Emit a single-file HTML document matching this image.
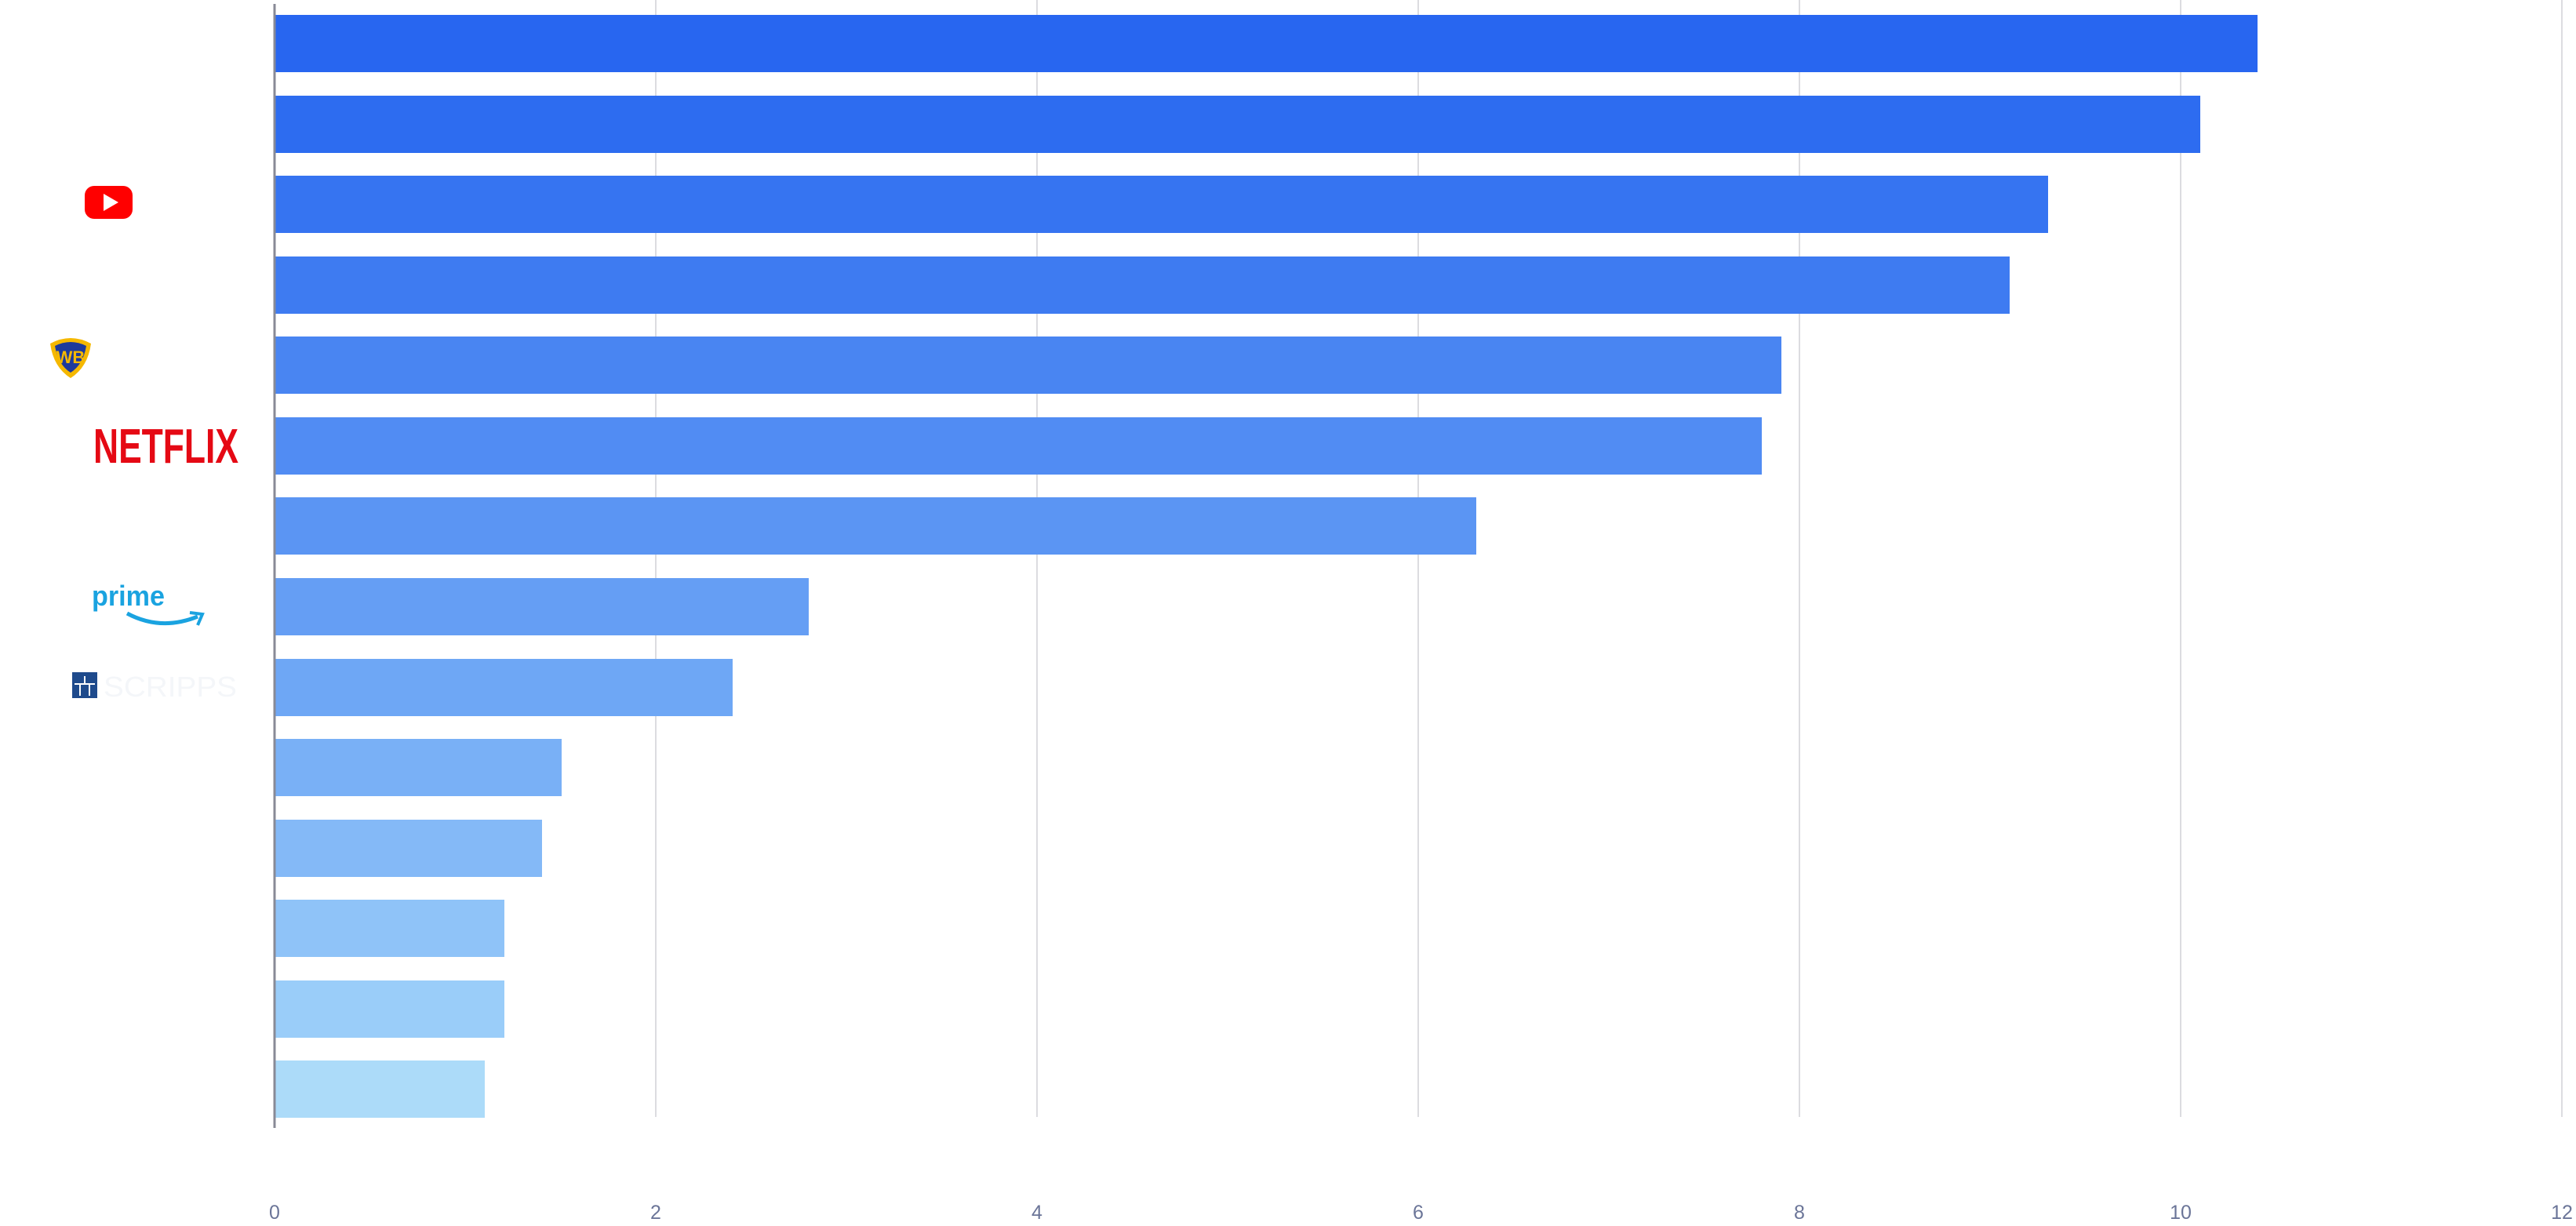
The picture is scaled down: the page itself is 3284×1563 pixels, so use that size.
<!DOCTYPE html>
<html><head><meta charset="utf-8"><style>html,body{margin:0;padding:0;background:#fff}svg{display:block}</style></head>
<body>
<svg width="3284" height="1563" viewBox="0 0 3284 1563" xmlns="http://www.w3.org/2000/svg" font-family="Liberation Sans, sans-serif">
<g stroke="#dcdce0" stroke-width="2">
<line x1="836" y1="0" x2="836" y2="1424"/>
<line x1="1322" y1="0" x2="1322" y2="1424"/>
<line x1="1808" y1="0" x2="1808" y2="1424"/>
<line x1="2294" y1="0" x2="2294" y2="1424"/>
<line x1="2780" y1="0" x2="2780" y2="1424"/>
<line x1="3266" y1="0" x2="3266" y2="1424"/>
</g>
<g>
<rect x="351" y="19" width="2527" height="73" fill="#2866f0"/>
<rect x="351" y="122" width="2454" height="73" fill="#2d6cf0"/>
<rect x="351" y="224" width="2260" height="73" fill="#3674f1"/>
<rect x="351" y="327" width="2211" height="73" fill="#3e7bf1"/>
<rect x="351" y="429" width="1920" height="73" fill="#4985f2"/>
<rect x="351" y="532" width="1895" height="73" fill="#518cf3"/>
<rect x="351" y="634" width="1531" height="73" fill="#5b95f3"/>
<rect x="351" y="737" width="680" height="73" fill="#659ef4"/>
<rect x="351" y="840" width="583" height="73" fill="#6ea7f5"/>
<rect x="351" y="942" width="365" height="73" fill="#79b0f6"/>
<rect x="351" y="1045" width="340" height="73" fill="#84b9f7"/>
<rect x="351" y="1147" width="292" height="73" fill="#8fc3f8"/>
<rect x="351" y="1250" width="292" height="73" fill="#9acdf9"/>
<rect x="351" y="1352" width="267" height="73" fill="#acdbf9"/>
</g>
<line x1="350" y1="5" x2="350" y2="1438" stroke="#888a96" stroke-width="3"/>
<g fill="#6b7598" font-size="25" text-anchor="middle">
<text x="350" y="1554">0</text><text x="836" y="1554">2</text><text x="1322" y="1554">4</text>
<text x="1808" y="1554">6</text><text x="2294" y="1554">8</text><text x="2780" y="1554">10</text><text x="3266" y="1554">12</text>
</g>
<!-- YouTube -->
<rect x="108" y="237" width="61" height="42" rx="12" fill="#ff0000"/>
<polygon points="132,247 132,269 151,258" fill="#fff"/>
<!-- WB -->
<path d="M64,438 Q90,424 116,438 Q112,468 90,482 Q68,468 64,438Z" fill="#f5b800"/>
<path d="M70,441 Q90,431 110,441 Q106,465 90,475 Q74,465 70,441Z" fill="#1d3a9c"/>
<text x="90" y="463" font-size="22" font-weight="bold" fill="#f5b800" text-anchor="middle">WB</text>
<!-- Netflix -->
<text x="119" y="590" font-size="62" font-weight="bold" fill="#e50914" textLength="185" lengthAdjust="spacingAndGlyphs">NETFLIX</text>
<!-- Prime -->
<text x="117" y="772" font-size="36" font-weight="bold" fill="#1aa3e0" textLength="93" lengthAdjust="spacingAndGlyphs">prime</text>
<path d="M162,782 Q205,805 252,786" stroke="#1aa3e0" stroke-width="5" fill="none"/>
<path d="M242,781 L258,783 L252,797" stroke="#1aa3e0" stroke-width="4" fill="none"/>
<!-- Scripps -->
<rect x="92" y="857" width="32" height="33" fill="#1e4a8c"/>
<g stroke="#fff" stroke-width="2"><line x1="95" y1="872" x2="121" y2="872"/><line x1="102" y1="872" x2="102" y2="887"/><line x1="114" y1="872" x2="114" y2="887"/><line x1="108" y1="862" x2="108" y2="872"/></g>
<text x="132" y="888" font-size="36" fill="#f4f6f9" textLength="170" lengthAdjust="spacingAndGlyphs">SCRIPPS</text>
</svg>
</body></html>
